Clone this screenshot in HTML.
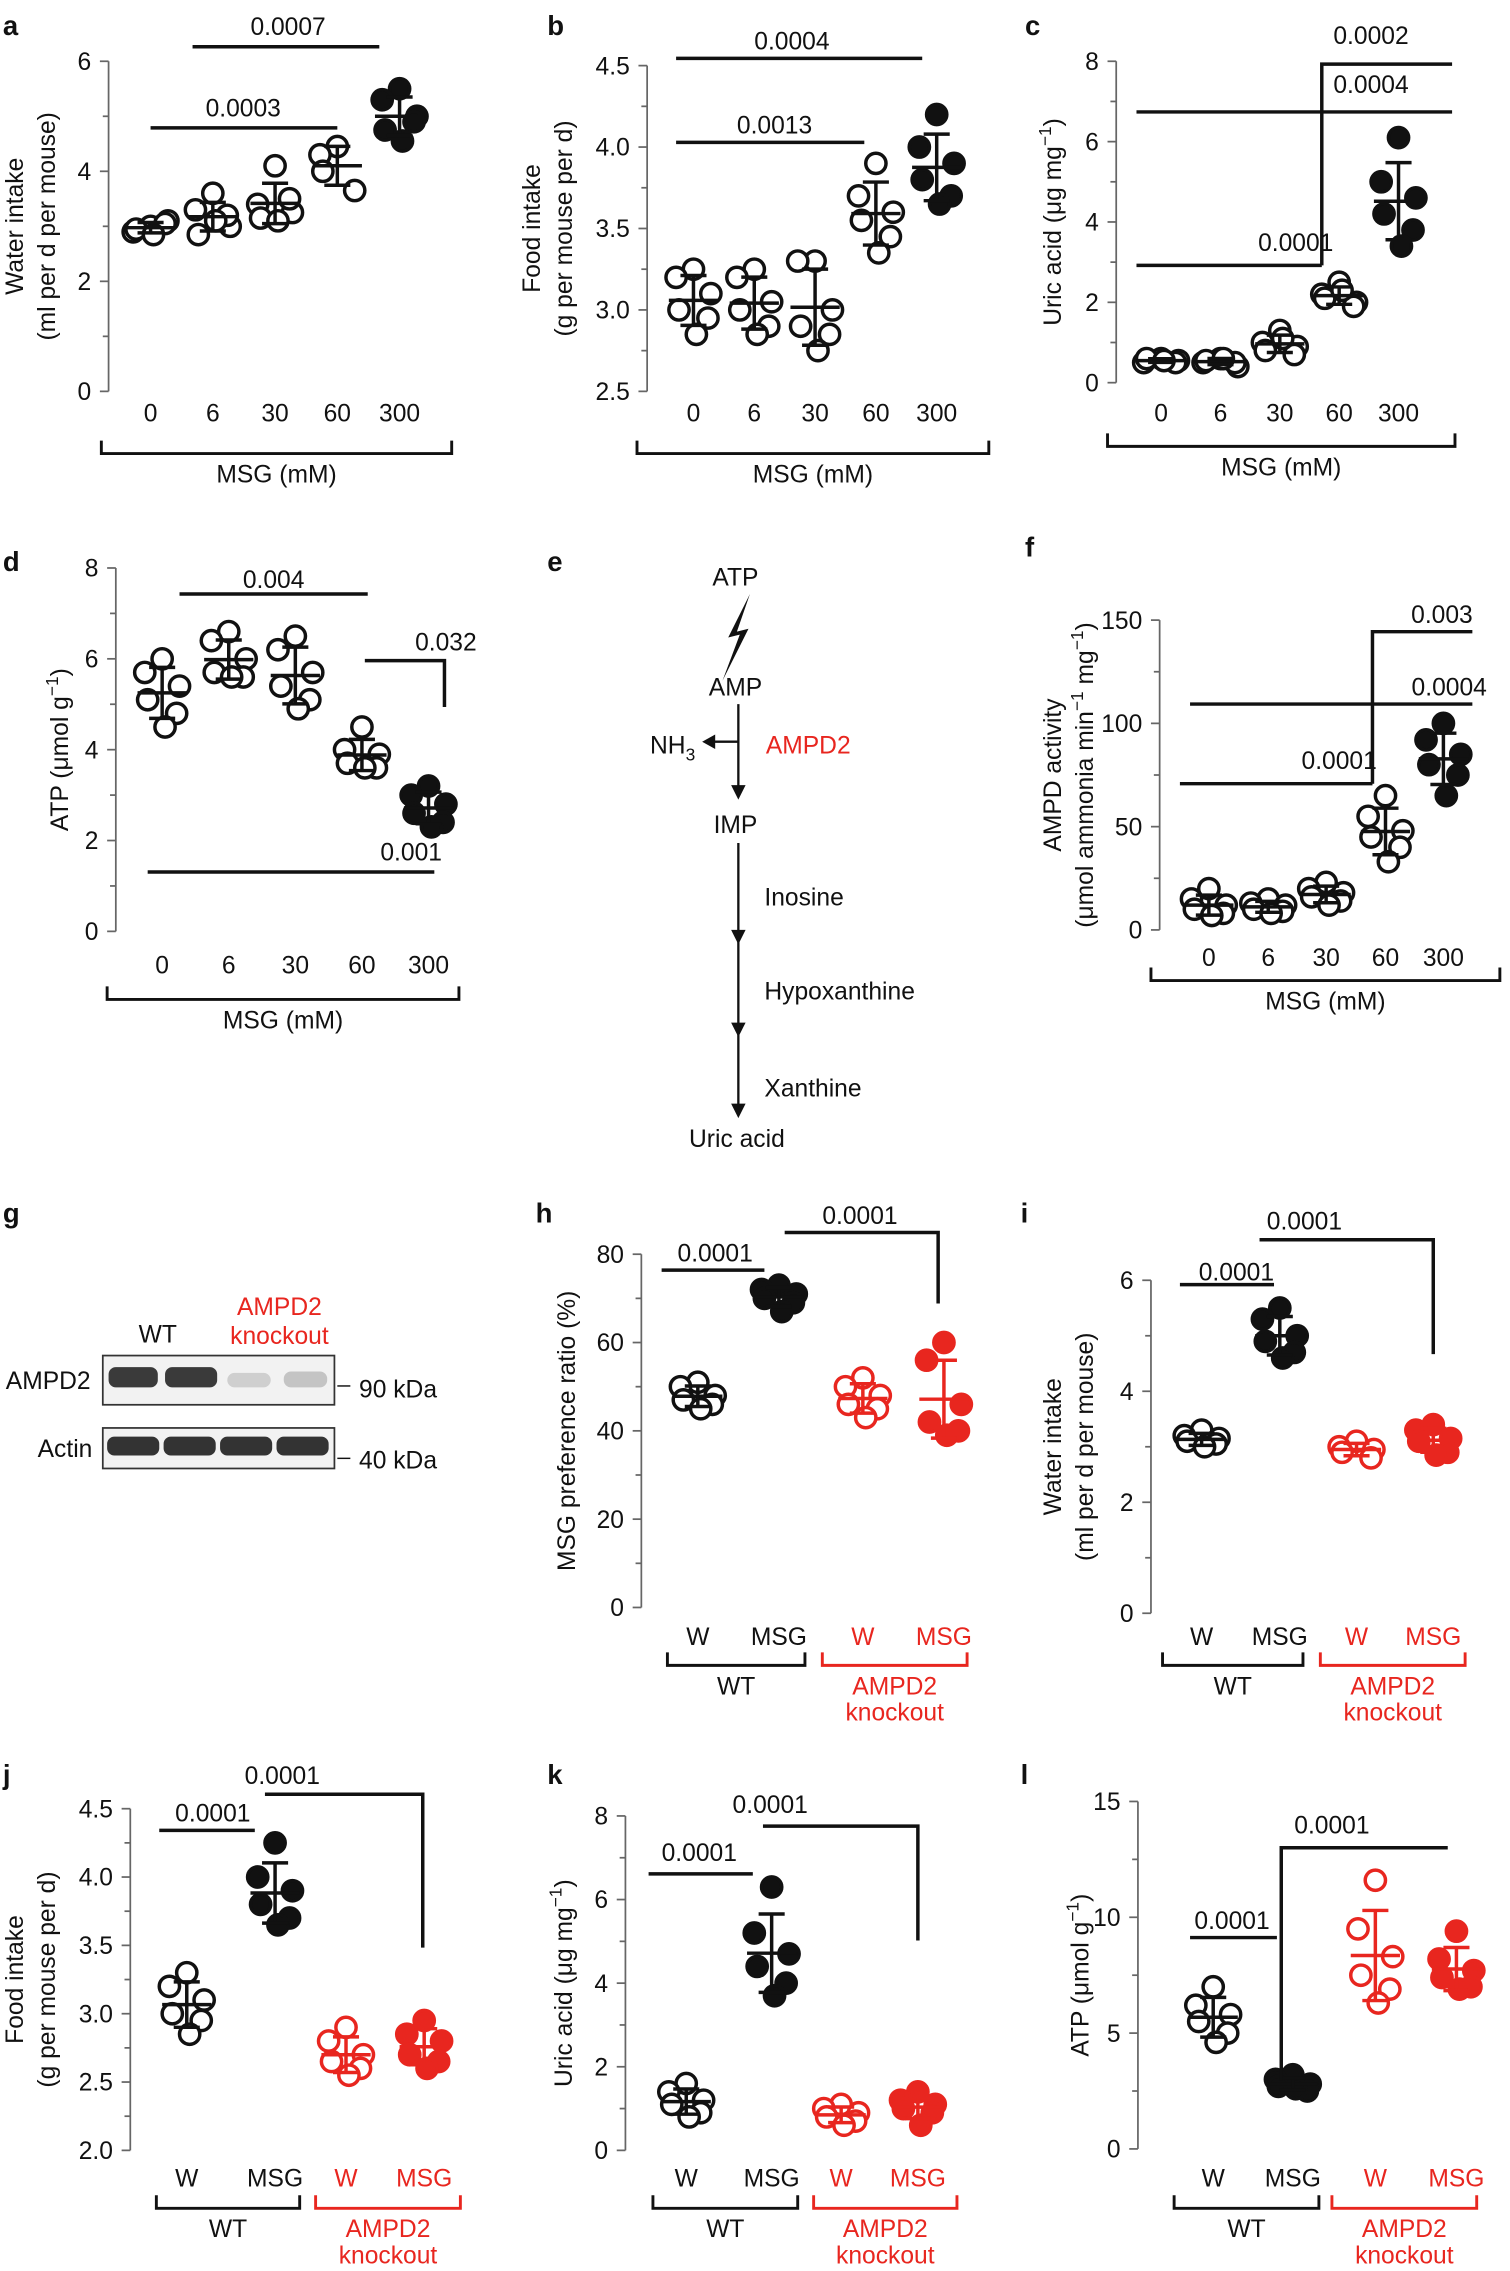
<!DOCTYPE html>
<html><head><meta charset="utf-8"><style>
html,body{margin:0;padding:0;background:#fff}
svg{display:block}
text{font-family:"Liberation Sans",Arial,sans-serif;fill:#111}
</style></head><body>
<svg id="fig" xmlns="http://www.w3.org/2000/svg" width="1510" height="2271" viewBox="0 0 1043 1568">
<text x="378" y="394" font-size="19" font-weight="bold">e</text>
<text x="2" y="844" font-size="19" font-weight="bold">g</text>
<g font-size="17">
<text x="508" y="404" text-anchor="middle">ATP</text>
<polygon points="518,410 503,440 511,438 499,470 517,434 509,436" fill="#111"/>
<text x="508" y="480" text-anchor="middle">AMP</text>
<line x1="510" y1="486" x2="510" y2="548" stroke="#111" stroke-width="1.6"/>
<polygon points="505,542 515,542 510,552" fill="#111"/>
<line x1="510" y1="512" x2="490" y2="512" stroke="#111" stroke-width="1.6"/>
<polygon points="494,507 494,517 485,512" fill="#111"/>
<text x="449" y="520">NH<tspan font-size="12" dy="5">3</tspan></text>
<text x="529" y="520" style="fill:#e8261f">AMPD2</text>
<text x="508" y="575" text-anchor="middle">IMP</text>
<line x1="510" y1="582" x2="510" y2="768" stroke="#111" stroke-width="1.6"/>
<polygon points="505,642 515,642 510,652" fill="#111"/>
<polygon points="505,706 515,706 510,716" fill="#111"/>
<polygon points="505,762 515,762 510,772" fill="#111"/>
<text x="528" y="625">Inosine</text>
<text x="528" y="690">Hypoxanthine</text>
<text x="528" y="757">Xanthine</text>
<text x="509" y="792" text-anchor="middle">Uric acid</text>
</g>
<g font-size="17">
<text x="109" y="927" text-anchor="middle">WT</text>
<text x="193" y="908" text-anchor="middle" style="fill:#e8261f">AMPD2</text>
<text x="193" y="928" text-anchor="middle" style="fill:#e8261f">knockout</text>
<rect x="71" y="936" width="160" height="34" fill="#f2f2f2" stroke="#333" stroke-width="1.2"/>
<rect x="75" y="944" width="34" height="14" rx="5" fill="#3a3a3a"/>
<rect x="114" y="944" width="36" height="14" rx="5" fill="#3a3a3a"/>
<rect x="157" y="948" width="30" height="10" rx="5" fill="#cfcfcf"/>
<rect x="196" y="947" width="30" height="11" rx="5" fill="#c4c4c4"/>
<rect x="71" y="986" width="160" height="28" fill="#f2f2f2" stroke="#333" stroke-width="1.2"/>
<rect x="74" y="992" width="36" height="13" rx="5" fill="#333"/>
<rect x="113" y="992" width="36" height="13" rx="5" fill="#333"/>
<rect x="152" y="992" width="36" height="13" rx="5" fill="#333"/>
<rect x="191" y="992" width="36" height="13" rx="5" fill="#333"/>
<text x="4" y="959">AMPD2</text>
<text x="26" y="1006">Actin</text>
<line x1="233" y1="957" x2="242" y2="957" stroke="#111"/>
<line x1="233" y1="1007" x2="242" y2="1007" stroke="#111"/>
<text x="248" y="965">90 kDa</text>
<text x="248" y="1014">40 kDa</text>
</g>
</svg>
<script>
const RED = '#e8261f';
// ---- data ----
const aCats = ['0','6','30','60','300'];
const aTicks = [0,2,4,6];
const aValues = [[3.0,2.9,3.1,2.95,3.05,2.85],[3.6,3.3,3.0,2.85,3.2,3.1],[4.1,3.4,3.25,3.15,3.5,3.1],[4.45,4.3,3.65,4.0],[5.5,5.3,5.0,4.75,4.9,4.55]];
const bCats = ['0','6','30','60','300'];
const bTicks = [2.5,3.0,3.5,4.0,4.5];
const bValues = [[3.25,3.2,3.1,3.0,2.95,2.85],[3.25,3.2,3.05,3.0,2.9,2.85],[3.3,3.3,3.0,2.9,2.85,2.75],[3.9,3.7,3.6,3.55,3.45,3.35],[4.2,4.0,3.9,3.8,3.7,3.65]];
const cCats = ['0','6','30','60','300'];
const cTicks = [0,2,4,6,8];
const cValues = [[0.6,0.5,0.55,0.6,0.5,0.55],[0.6,0.5,0.4,0.55,0.5,0.6],[1.3,1.0,0.9,0.8,0.7,1.1],[2.5,2.2,2.0,2.1,1.9,2.3],[6.1,5.0,4.6,4.2,3.8,3.4]];
const dCats = ['0','6','30','60','300'];
const dTicks = [0,2,4,6,8];
const dValues = [[6.0,5.7,5.4,5.1,4.8,4.5],[6.6,6.4,6.0,5.7,5.6,5.6],[6.5,6.2,5.7,5.4,5.1,4.9],[4.5,4.0,3.9,3.7,3.6,3.6],[3.2,3.0,2.8,2.6,2.4,2.3]];
const fCats = ['0','6','30','60','300'];
const fTicks = [0,50,100,150];
const fValues = [[20,15,12,10,8,7],[15,13,12,10,9,8],[23,20,18,16,14,12],[65,55,48,45,40,33],[100,92,85,80,75,65]];
const hCats = ['W','MSG','W','MSG'];
const hTicks = [0,20,40,60,80];
const hValues = [[51,50,48,47,46,45],[73,72,71,70,69,67],[52,50,48,46,45,43],[60,56,46,42,40,39]];
const iCats = ['W','MSG','W','MSG'];
const iTicks = [0,2,4,6];
const iValues = [[3.3,3.2,3.15,3.1,3.05,3.0],[5.5,5.3,5.0,4.9,4.7,4.6],[3.1,3.0,2.95,2.9,2.8],[3.4,3.3,3.15,3.1,2.9,2.85]];
const jCats = ['W','MSG','W','MSG'];
const jTicks = [2.0,2.5,3.0,3.5,4.0,4.5];
const jValues = [[3.3,3.2,3.1,3.0,2.95,2.85],[4.25,4.0,3.9,3.8,3.7,3.65],[2.9,2.8,2.7,2.65,2.6,2.55],[2.95,2.85,2.8,2.7,2.65,2.6]];
const kCats = ['W','MSG','W','MSG'];
const kTicks = [0,2,4,6,8];
const kValues = [[1.6,1.4,1.2,1.1,0.9,0.8],[6.3,5.2,4.7,4.4,4.0,3.7],[1.1,1.0,0.9,0.8,0.7,0.6],[1.4,1.2,1.1,1.0,0.9,0.6]];
const lCats = ['W','MSG','W','MSG'];
const lTicks = [0,5,10,15];
const lValues = [[7.0,6.2,5.8,5.5,5.0,4.6],[3.2,3.0,2.8,2.7,2.5,2.6],[11.6,9.5,8.3,7.5,6.9,6.3],[9.4,8.2,7.7,7.4,7.0,6.9]];
const pvals = {a:['0.0003','0.0007'],b:['0.0013','0.0004'],c:['0.0001','0.0004','0.0002'],d:['0.004','0.032','0.001'],f:['0.0001','0.0004','0.003'],h:['0.0001','0.0001'],i:['0.0001','0.0001'],j:['0.0001','0.0001'],k:['0.0001','0.0001'],l:['0.0001','0.0001']};

const svg = document.getElementById('fig');
const NS = 'http://www.w3.org/2000/svg';
function el(tag, attrs, parent){const e=document.createElementNS(NS,tag);for(const k in attrs)e.setAttribute(k,attrs[k]);(parent||svg).appendChild(e);return e;}
function txt(s, x, y, parent, opts){const t=el('text',Object.assign({x:x,y:y,'font-size':17},opts||{}),parent);t.textContent=s;return t;}
const offs=[0,-12,12,-10,10,2];

function panel(id, g, cats, vals, ticks, colors, filled){
  const grp=el('g',{});
  
  
  const lab=txt(id, g.lx, g.ly, grp, {'font-size':19,'font-weight':'bold'});
  
  
  const vmin=ticks[0], vmax=ticks[ticks.length-1];
  const Y=v=>g.yb-(v-vmin)/(vmax-vmin)*(g.yb-g.yt);
  const ax=el('line',{x1:g.x0,y1:g.yb,x2:g.x0,y2:g.yt,stroke:'#666','stroke-width':1.2},grp);
  
  
  ticks.forEach((t,i)=>{
    el('line',{x1:g.x0-6,y1:Y(t),x2:g.x0,y2:Y(t),stroke:'#666','stroke-width':1.2},grp);
    if(i<ticks.length-1){const m=(t+ticks[i+1])/2;el('line',{x1:g.x0-4,y1:Y(m),x2:g.x0,y2:Y(m),stroke:'#666','stroke-width':1.2},grp);}
    const tl=txt(g.dec?t.toFixed(1):String(t), g.x0-12, Y(t)+6, grp, {'text-anchor':'end'});
    
    
  });
  const yl=el('text',{transform:`translate(${g.ylx},${(g.yb+g.yt)/2}) rotate(-90)`,'text-anchor':'middle','font-size':17},grp);
  
  
  g.ylab.forEach((s,i)=>{const ts=el('tspan',{x:0,dy:i?22:0},yl);ts.innerHTML=s;});
  cats.forEach((c,ci)=>{
    const cx=g.cx[ci], col=colors[ci], v=vals[ci];
    const cl=txt(c,cx,g.cly,grp,{'text-anchor':'middle'});
    if(col!=='#111')cl.style.fill=col;
    
    
    v.forEach((d,k)=>{
      const p=el('circle',{cx:cx+offs[k%6],cy:Y(d),r:7,fill:filled[ci]?col:'#fff',stroke:col,'stroke-width':2.4},grp);
      
      
    });
    const mean=v.reduce((a,b)=>a+b,0)/v.length;
    const sd=Math.sqrt(v.reduce((a,b)=>a+(b-mean)*(b-mean),0)/(v.length-1));
    const eb=el('g',{stroke:col,'stroke-width':2.4},grp);
    
    
    el('line',{x1:cx-17,y1:Y(mean),x2:cx+17,y2:Y(mean)},eb);
    el('line',{x1:cx,y1:Y(mean+sd),x2:cx,y2:Y(mean-sd)},eb);
    el('line',{x1:cx-9,y1:Y(mean+sd),x2:cx+9,y2:Y(mean+sd)},eb);
    el('line',{x1:cx-9,y1:Y(mean-sd),x2:cx+9,y2:Y(mean-sd)},eb);
  });
  g.groups.forEach(b=>{
    const gb=el('g',{},grp);
    
    
    el('polyline',{points:`${b[0]},${g.by-9} ${b[0]},${g.by} ${b[1]},${g.by} ${b[1]},${g.by-9}`,fill:'none',stroke:b[3],'stroke-width':2},gb);
    b[2].forEach((s,i)=>{const t=txt(s,(b[0]+b[1])/2,g.by+20+i*18,gb,{'text-anchor':'middle'});if(b[3]!=='#111')t.style.fill=b[3];});
  });
  g.sig.forEach(s=>{
    const l=el('polyline',{points:s.pts,fill:'none',stroke:'#111','stroke-width':2.4},grp);
    
    
  });
  pvals[id].forEach((p,i)=>{
    const t=txt(p,g.pl[i][0],g.pl[i][1],grp,{'text-anchor':'middle'});
    
    
  });
}
const B='#111';
const cols5=[B,B,B,B,B], fill5=[0,0,0,0,1];
const cols4=[B,B,RED,RED], fill4=[0,1,0,1];
const knock=['AMPD2','knockout'];

panel('a',{lx:2,ly:24,x0:75,yb:270,yt:42,ylx:16,ylab:['Water intake','(ml per d per mouse)'],cx:[104,147,190,233,276],cly:291,by:313,groups:[[70,312,['MSG (mM)'],B]],
 sig:[{pts:'104,88 233,88'},{pts:'133,32 262,32'}],pl:[[168,80],[199,24]]},aCats,aValues,aTicks,cols5,fill5);
panel('b',{lx:378,ly:24,x0:447,yb:270,yt:45,dec:1,ylx:373,ylab:['Food intake','(g per mouse per d)'],cx:[479,521,563,605,647],cly:291,by:313,groups:[[440,683,['MSG (mM)'],B]],
 sig:[{pts:'467,98 597,98'},{pts:'467,40 637,40'}],pl:[[535,92],[547,34]]},bCats,bValues,bTicks,cols5,fill5);
panel('c',{lx:708,ly:24,x0:771,yb:264,yt:42,ylx:733,ylab:['Uric acid (μg mg<tspan dy="-7" font-size="12">−1</tspan><tspan dy="7">)</tspan>'],cx:[802,843,884,925,966],cly:291,by:308,groups:[[765,1005,['MSG (mM)'],B]],
 sig:[{pts:'785,183 913,183'},{pts:'785,77 1003,77'},{pts:'913,183 913,44 1003,44'}],pl:[[895,173],[947,64],[947,30]]},cCats,cValues,cTicks,cols5,fill5);
panel('d',{lx:2,ly:394,x0:80,yb:643,yt:392,ylx:47,ylab:['ATP (μmol g<tspan dy="-7" font-size="12">−1</tspan><tspan dy="7">)</tspan>'],cx:[112,158,204,250,296],cly:672,by:690,groups:[[74,317,['MSG (mM)'],B]],
 sig:[{pts:'124,410 254,410'},{pts:'252,456 307,456 307,488'},{pts:'102,602 300,602'}],pl:[[189,406],[308,449],[284,594]]},dCats,dValues,dTicks,cols5,fill5);
panel('f',{lx:708,ly:384,x0:801,yb:642,yt:428,ylx:733,ylab:['AMPD activity','(μmol ammonia min<tspan dy="-7" font-size="12">−1</tspan><tspan dy="7"> mg</tspan><tspan dy="-7" font-size="12">−1</tspan><tspan dy="7">)</tspan>'],cx:[835,876,916,957,997],cly:667,by:677,groups:[[795,1036,['MSG (mM)'],B]],
 sig:[{pts:'815,541 948,541'},{pts:'822,486 1017,486'},{pts:'948,541 948,436 1017,436'}],pl:[[925,531],[1001,480],[996,430]]},fCats,fValues,fTicks,cols5,fill5);
panel('h',{lx:370,ly:844,x0:443,yb:1110,yt:866,ylx:397,ylab:['MSG preference ratio (%)'],cx:[482,538,596,652],cly:1136,by:1150,groups:[[461,556,['WT'],B],[568,668,knock,RED]],
 sig:[{pts:'457,877 528,877'},{pts:'542,851 648,851 648,900'}],pl:[[494,871],[594,845]]},hCats,hValues,hTicks,cols4,fill4);
panel('i',{lx:705,ly:844,x0:795,yb:1114,yt:884,ylx:733,ylab:['Water intake','(ml per d per mouse)'],cx:[830,884,937,990],cly:1136,by:1150,groups:[[803,900,['WT'],B],[912,1012,knock,RED]],
 sig:[{pts:'815,887 880,887'},{pts:'870,856 990,856 990,935'}],pl:[[854,884],[901,849]]},iCats,iValues,iTicks,cols4,fill4);
panel('j',{lx:2,ly:1232,x0:90,yb:1485,yt:1249,dec:1,ylx:16,ylab:['Food intake','(g per mouse per d)'],cx:[129,190,239,293],cly:1510,by:1525,groups:[[108,207,['WT'],B],[218,318,knock,RED]],
 sig:[{pts:'110,1264 176,1264'},{pts:'183,1239 292,1239 292,1345'}],pl:[[147,1258],[195,1232]]},jCats,jValues,jTicks,cols4,fill4);
panel('k',{lx:378,ly:1232,x0:432,yb:1485,yt:1254,ylx:395,ylab:['Uric acid (μg mg<tspan dy="-7" font-size="12">−1</tspan><tspan dy="7">)</tspan>'],cx:[474,533,581,634],cly:1510,by:1525,groups:[[451,551,['WT'],B],[562,661,knock,RED]],
 sig:[{pts:'448,1294 520,1294'},{pts:'527,1261 634,1261 634,1340'}],pl:[[483,1285],[532,1252]]},kCats,kValues,kTicks,cols4,fill4);
panel('l',{lx:705,ly:1232,x0:786,yb:1484,yt:1244,ylx:752,ylab:['ATP (μmol g<tspan dy="-7" font-size="12">−1</tspan><tspan dy="7">)</tspan>'],cx:[838,893,950,1006],cly:1510,by:1525,groups:[[811,911,['WT'],B],[920,1020,knock,RED]],
 sig:[{pts:'822,1338 882,1338'},{pts:'885,1437 885,1276 1000,1276'}],pl:[[851,1332],[920,1266]]},lCats,lValues,lTicks,cols4,fill4);
</script>
</body></html>
